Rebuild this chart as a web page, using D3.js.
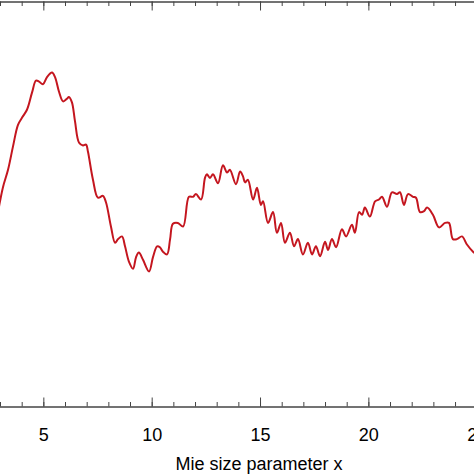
<!DOCTYPE html>
<html>
<head>
<meta charset="utf-8">
<script src="https://cdn.jsdelivr.net/npm/d3@7"></script>
<style>
  html, body { margin: 0; padding: 0; background: #fff; }
  svg { display: block; }
  text { font-family: "Liberation Sans", Arial, Helvetica, sans-serif; }
</style>
</head>
<body>
<svg id="chart" width="474" height="474"></svg>
<script>
// Mie size parameter x
const sizeParam = [2.9, 3.00, 3.14, 3.37, 3.60, 3.83, 4.02, 4.25, 4.48, 4.66, 4.80, 4.98, 5.17, 5.40, 5.54, 5.72, 5.91, 6.09, 6.18, 6.32, 6.46, 6.65, 6.83, 6.97, 7.06, 7.29, 7.52, 7.75, 7.89, 8.12, 8.31, 8.45, 8.63, 8.77, 8.95, 9.14, 9.28, 9.41, 9.60, 9.88, 10.06, 10.25, 10.38, 10.52, 10.71, 10.85, 10.98, 11.21, 11.45, 11.72, 11.91, 12.04, 12.28, 12.46, 12.55, 12.69, 12.83, 13.06, 13.29, 13.48, 13.61, 13.89, 14.08, 14.21, 14.31, 14.44, 14.68, 14.86, 15.04, 15.14, 15.37, 15.60, 15.78, 15.97, 16.15, 16.38, 16.57, 16.75, 16.98, 17.21, 17.40, 17.58, 17.77, 18.00, 18.14, 18.32, 18.51, 18.78, 18.97, 19.24, 19.38, 19.57, 19.71, 19.84, 20.07, 20.31, 20.49, 20.63, 20.86, 21.09, 21.32, 21.46, 21.64, 21.83, 22.06, 22.20, 22.38, 22.57, 22.71, 22.98, 23.26, 23.54, 23.72, 23.90, 24.09, 24.32, 24.55, 24.83, 25.0];
// Extinction efficiency
const qext = [2.15, 2.28, 2.44, 2.63, 2.89, 3.13, 3.21, 3.30, 3.49, 3.62, 3.61, 3.58, 3.66, 3.71, 3.66, 3.50, 3.39, 3.42, 3.44, 3.38, 3.17, 2.93, 2.90, 2.91, 2.83, 2.52, 2.32, 2.34, 2.27, 2.00, 1.82, 1.86, 1.89, 1.78, 1.61, 1.53, 1.66, 1.71, 1.63, 1.50, 1.66, 1.78, 1.77, 1.72, 1.69, 1.86, 2.03, 2.04, 2.00, 2.33, 2.33, 2.36, 2.30, 2.54, 2.58, 2.54, 2.58, 2.48, 2.68, 2.60, 2.63, 2.47, 2.61, 2.56, 2.49, 2.52, 2.30, 2.43, 2.24, 2.28, 2.04, 2.16, 1.93, 2.04, 1.82, 1.93, 1.78, 1.86, 1.69, 1.82, 1.69, 1.78, 1.67, 1.83, 1.74, 1.86, 1.77, 1.97, 1.89, 2.02, 1.93, 2.16, 2.13, 2.21, 2.11, 2.28, 2.30, 2.33, 2.22, 2.38, 2.36, 2.38, 2.24, 2.36, 2.33, 2.32, 2.16, 2.17, 2.21, 2.13, 1.99, 2.04, 2.04, 1.86, 1.86, 1.89, 1.80, 1.72, 1.69];
const majorTicks = [5, 10, 15, 20, 25];
const minorTicks = d3.range(0, 26, 1);
const xLabel = "Mie size parameter x";

(function () {
const svg = d3.select("#chart");
const yTop = 1.5, yBottom = 406.5;
const x = d3.scaleLinear().domain([0, 25]).range([-65.0, 476.7]);
const y = d3.scaleLinear().domain([0, 4.5]).range([yBottom, yTop]);

svg.append("defs").append("clipPath").attr("id", "plotclip")
  .append("rect").attr("x", 0).attr("y", yTop).attr("width", 474).attr("height", yBottom - yTop);

const data = sizeParam.map((v, i) => [v, qext[i]]);
const line = d3.line().x(d => x(d[0])).y(d => y(d[1])).curve(d3.curveCatmullRom.alpha(0.5));

svg.append("path")
  .attr("clip-path", "url(#plotclip)")
  .attr("d", line(data))
  .attr("fill", "none")
  .attr("stroke", "#c4161f")
  .attr("stroke-width", 2)
  .attr("stroke-linejoin", "round");

function styleAxis(g) {
  g.selectAll("path.domain").attr("stroke", "#444").attr("stroke-width", 1);
  g.selectAll(".tick line").attr("stroke", "#444").attr("stroke-width", 1);
}

svg.append("g").attr("transform", `translate(0,${yBottom})`)
  .call(d3.axisBottom(x).tickValues(minorTicks).tickSize(-4.5).tickSizeOuter(0).tickFormat(""))
  .call(styleAxis);
svg.append("g").attr("transform", `translate(0,${yBottom})`)
  .call(d3.axisBottom(x).tickValues(majorTicks).tickSize(-9).tickSizeOuter(0).tickPadding(21.5))
  .call(styleAxis)
  .call(g => g.selectAll("text").attr("font-size", 18).attr("fill", "#000")
    .style("font-family", '"Liberation Sans", Arial, Helvetica, sans-serif'));

svg.append("g").attr("transform", `translate(0,${yTop})`)
  .call(d3.axisTop(x).tickValues(minorTicks).tickSize(-4.5).tickSizeOuter(0).tickFormat(""))
  .call(styleAxis);
svg.append("g").attr("transform", `translate(0,${yTop})`)
  .call(d3.axisTop(x).tickValues(majorTicks).tickSize(-9).tickSizeOuter(0).tickFormat(""))
  .call(styleAxis);

svg.append("text")
  .attr("x", 259).attr("y", 469.5)
  .attr("text-anchor", "middle")
  .attr("font-size", 18)
  .attr("fill", "#000")
  .text(xLabel);
})();
</script>
</body>
</html>
